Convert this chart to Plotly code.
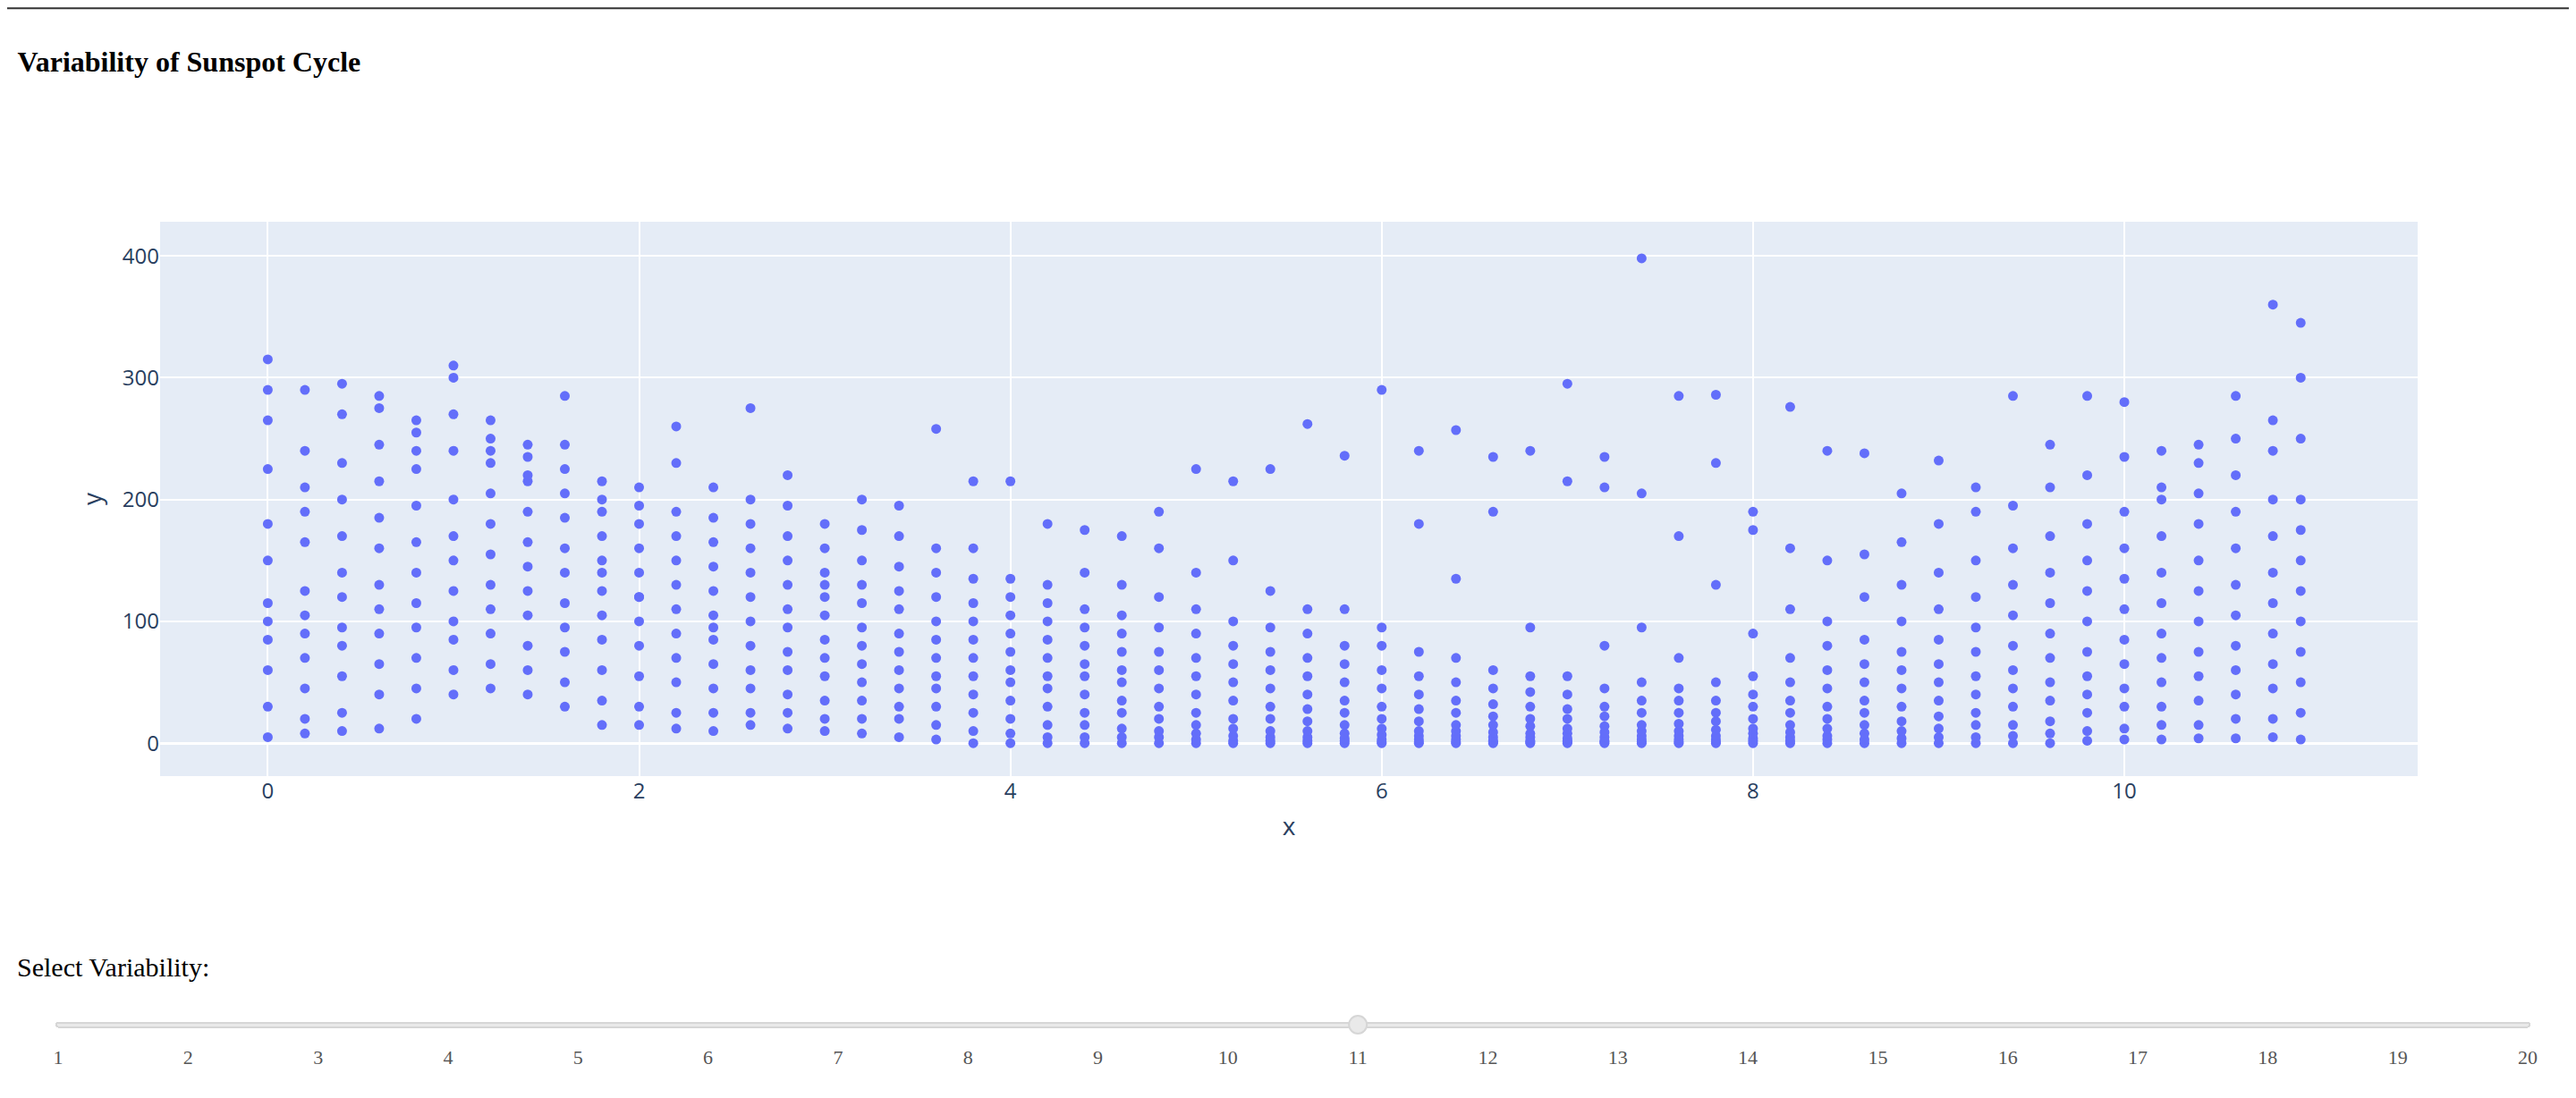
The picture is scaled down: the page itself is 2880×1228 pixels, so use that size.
import plotly.graph_objects as go

cycle_x = [0.0, 0.2, 0.4, 0.6, 0.8, 1.0, 1.2, 1.4, 1.6, 1.8, 2.0, 2.2, 2.4, 2.6, 2.8,
           3.0, 3.2, 3.4, 3.6, 3.8, 4.0, 4.2, 4.4, 4.6, 4.8, 5.0, 5.2, 5.4, 5.6, 5.8,
           6.0, 6.2, 6.4, 6.6, 6.8, 7.0, 7.2, 7.4, 7.6, 7.8, 8.0, 8.2, 8.4, 8.6, 8.8,
           9.0, 9.2, 9.4, 9.6, 9.8, 10.0, 10.2, 10.4, 10.6, 10.8, 10.95]
sunspots = [
    [5, 30, 60, 85, 100, 115, 150, 180, 225, 265, 290, 315],
    [8, 20, 45, 70, 90, 105, 125, 165, 190, 210, 240, 290],
    [10, 25, 55, 80, 95, 120, 140, 170, 200, 230, 270, 295],
    [12, 40, 65, 90, 110, 130, 160, 185, 215, 245, 275, 285],
    [20, 45, 70, 95, 115, 140, 165, 195, 225, 255, 265, 240],
    [40, 60, 85, 100, 125, 150, 170, 200, 240, 270, 300, 310],
    [45, 65, 90, 110, 130, 155, 180, 205, 230, 250, 265, 240],
    [40, 60, 80, 105, 125, 145, 165, 190, 215, 235, 245, 220],
    [30, 50, 75, 95, 115, 140, 160, 185, 205, 225, 245, 285],
    [15, 35, 60, 85, 105, 125, 150, 170, 190, 215, 200, 140],
    [15, 30, 55, 80, 100, 120, 140, 160, 180, 195, 210, 120],
    [12, 25, 50, 70, 90, 110, 130, 150, 170, 190, 230, 260],
    [10, 25, 45, 65, 85, 105, 125, 145, 165, 185, 210, 95],
    [15, 25, 45, 60, 80, 100, 120, 140, 160, 180, 200, 275],
    [12, 25, 40, 60, 75, 95, 110, 130, 150, 170, 195, 220],
    [10, 20, 35, 55, 70, 85, 105, 120, 140, 160, 180, 130],
    [8, 20, 35, 50, 65, 80, 95, 115, 130, 150, 175, 200],
    [5, 20, 30, 45, 60, 75, 90, 110, 125, 145, 170, 195],
    [3, 15, 30, 45, 55, 70, 85, 100, 120, 140, 160, 258],
    [0, 10, 25, 40, 55, 70, 85, 100, 115, 135, 160, 215],
    [0, 8, 20, 35, 50, 60, 75, 90, 105, 120, 135, 215],
    [0, 5, 15, 30, 45, 55, 70, 85, 100, 115, 130, 180],
    [0, 5, 15, 25, 40, 55, 65, 80, 95, 110, 140, 175],
    [0, 5, 12, 25, 35, 50, 60, 75, 90, 105, 130, 170],
    [0, 5, 10, 20, 30, 45, 60, 75, 95, 120, 160, 190],
    [0, 3, 8, 15, 25, 40, 55, 70, 90, 110, 140, 225],
    [0, 2, 6, 12, 20, 35, 50, 65, 80, 100, 150, 215],
    [0, 2, 5, 10, 20, 30, 45, 60, 75, 95, 125, 225],
    [0, 2, 5, 10, 18, 28, 40, 55, 70, 90, 110, 262],
    [0, 2, 4, 8, 15, 25, 35, 50, 65, 80, 110, 236],
    [0, 1, 3, 7, 12, 20, 30, 45, 60, 80, 95, 290],
    [0, 1, 3, 6, 10, 18, 28, 40, 55, 75, 180, 240],
    [0, 1, 3, 6, 10, 15, 25, 35, 50, 70, 135, 257],
    [0, 1, 2, 5, 9, 15, 22, 32, 45, 60, 190, 235],
    [0, 1, 2, 5, 8, 14, 20, 30, 42, 55, 95, 240],
    [0, 1, 2, 4, 8, 12, 20, 28, 40, 55, 215, 295],
    [0, 1, 2, 5, 9, 14, 22, 30, 45, 80, 210, 235],
    [0, 1, 3, 6, 10, 15, 25, 35, 50, 95, 205, 398],
    [0, 1, 3, 6, 10, 16, 25, 35, 45, 70, 170, 285],
    [0, 1, 3, 6, 11, 18, 25, 35, 50, 130, 230, 286],
    [0, 2, 4, 8, 12, 20, 30, 40, 55, 90, 175, 190],
    [0, 2, 5, 9, 15, 25, 35, 50, 70, 110, 160, 276],
    [0, 3, 6, 12, 20, 30, 45, 60, 80, 100, 150, 240],
    [0, 3, 8, 15, 25, 35, 50, 65, 85, 120, 155, 238],
    [0, 4, 10, 18, 30, 45, 60, 75, 100, 130, 165, 205],
    [0, 5, 12, 22, 35, 50, 65, 85, 110, 140, 180, 232],
    [0, 5, 15, 25, 40, 55, 75, 95, 120, 150, 190, 210],
    [0, 6, 15, 30, 45, 60, 80, 105, 130, 160, 195, 285],
    [0, 8, 18, 35, 50, 70, 90, 115, 140, 170, 210, 245],
    [2, 10, 25, 40, 55, 75, 100, 125, 150, 180, 220, 285],
    [3, 12, 30, 45, 65, 85, 110, 135, 160, 190, 235, 280],
    [3, 15, 30, 50, 70, 90, 115, 140, 170, 200, 240, 210],
    [4, 15, 35, 55, 75, 100, 125, 150, 180, 205, 245, 230],
    [4, 20, 40, 60, 80, 105, 130, 160, 190, 220, 250, 285],
    [5, 20, 45, 65, 90, 115, 140, 170, 200, 240, 265, 360],
    [3, 25, 50, 75, 100, 125, 150, 175, 200, 250, 300, 345],
]
variability_steps = list(range(1, 21))
active_step = 11

xs = [x for x, col in zip(cycle_x, sunspots) for _ in col]
ys = [v for col in sunspots for v in col]

fig = go.Figure(go.Scatter(x=xs, y=ys, mode="markers",
                           marker=dict(color="#636efa", size=11)))

fig.update_layout(
    width=2880, height=1228,
    margin=dict(l=171, r=185, t=240, b=368),
    paper_bgcolor="white", plot_bgcolor="#e5ecf6",
    showlegend=False,
    font=dict(family="Open Sans, Arial", size=24, color="#2a3f5f"),
    title=dict(text="<b>Variability of Sunspot Cycle</b>", x=0.004, xref="container",
               y=0.96, yanchor="top", xanchor="left",
               font=dict(family="Liberation Serif", size=32, color="black")),
    xaxis=dict(title=dict(text="x", font=dict(size=28)), range=[-0.58, 11.58],
               dtick=2, gridcolor="white", gridwidth=2, zeroline=False),
    yaxis=dict(title=dict(text="y", font=dict(size=28)), range=[-27, 428],
               dtick=100, gridcolor="white", gridwidth=2, zeroline=True,
               zerolinecolor="white", zerolinewidth=3),
    annotations=[dict(text="Select Variability:", xref="paper", yref="paper",
                      x=-0.064, y=-0.345, xanchor="left", yanchor="middle",
                      showarrow=False,
                      font=dict(family="Liberation Serif", size=30, color="black"))],
    shapes=[dict(type="line", xref="paper", yref="paper", x0=-0.1, x1=1.1,
                 y0=1.385, y1=1.385, line=dict(color="#333", width=2))],
    sliders=[dict(
        active=active_step - 1,
        x=-0.049, len=1.102, y=-0.433, yanchor="top",
        pad=dict(t=0, b=0),
        currentvalue=dict(visible=False),
        bgcolor="#e9e9e9", activebgcolor="#a6dff3", bordercolor="#d6d6d6",
        borderwidth=2, tickcolor="#ccc", ticklen=0,
        font=dict(family="Liberation Serif", size=22, color="#555"),
        steps=[dict(label=str(s), method="skip", args=[None])
               for s in variability_steps],
    )],
)

fig.write_html("out.html")
